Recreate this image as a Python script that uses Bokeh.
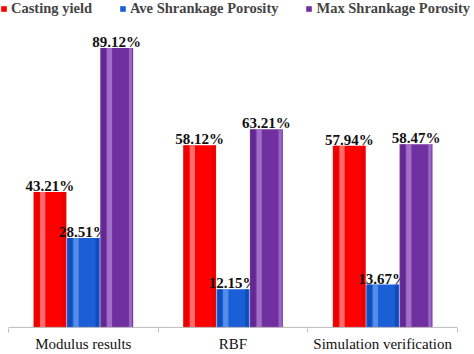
from bokeh.plotting import figure
from bokeh.models import ColumnDataSource, FixedTicker, Legend, LegendItem, Range1d
from bokeh.core.properties import value
from bokeh.embed import file_html
from bokeh.resources import INLINE

categories = ["Modulus results", "RBF", "Simulation verification"]
series_names = ["Casting yield", "Ave Shrankage Porosity", "Max Shrankage Porosity"]
casting_yield = [43.21, 58.12, 57.94]
ave_porosity = [28.51, 12.15, 13.67]
max_porosity = [89.12, 63.21, 58.47]

colors = ["#FF0000", "#1A5FD6", "#7030A0"]
light = ["#FF9A9A", "#6FA0F0", "#B68AD8"]
dark = ["#D80000", "#0A3FA8", "#5A2386"]
offsets = [-0.223, 0.0, 0.223]
bw = 0.22

n = len(categories)
px_per_cat = 449.0 / n
p = figure(width=474, height=354, output_backend="svg", toolbar_location=None,
           x_range=Range1d(-8 / px_per_cat, n + 17 / px_per_cat), y_range=Range1d(-0.35, 104.3),
           min_border_left=0, min_border_right=0, min_border_top=0, min_border_bottom=0)
p.outline_line_color = None
p.xgrid.visible = False
p.ygrid.visible = False
p.yaxis.visible = False

serif = value("Liberation Serif")
items = []
for i, vals in enumerate([casting_yield, ave_porosity, max_porosity]):
    xs = [k + 0.5 + offsets[i] for k in range(n)]
    src = ColumnDataSource(dict(x=xs, top=vals, lab=[f"{v:.2f}%" for v in vals]))
    r = p.vbar(x="x", top="top", width=bw, source=src, fill_color=colors[i], line_color=None)
    # shading stripes to mimic the gradient look
    p.vbar(x=[x - bw * 0.40 for x in xs], top=vals, width=bw * 0.12, fill_color=dark[i],
           line_color=None, fill_alpha=0.6)
    p.vbar(x=[x - bw * 0.22 for x in xs], top=vals, width=bw * 0.16, fill_color=light[i],
           line_color=None, fill_alpha=0.7)
    p.vbar(x=[x + bw * 0.42 for x in xs], top=vals, width=bw * 0.10, fill_color=light[i] if i == 2 else dark[i],
           line_color=None, fill_alpha=0.6)
    p.text(x="x", y="top", text="lab", source=src, text_align="center", text_baseline="alphabetic",
           y_offset=-6, text_font=serif, text_font_style="bold", text_font_size="15px", text_color="#111111")
    items.append(LegendItem(label=series_names[i], renderers=[r]))

# baseline across the category span
p.segment(x0=[0], x1=[n], y0=[0], y1=[0], line_color="#BBBBBB", line_width=1)

legend = Legend(items=items, orientation="horizontal", location=(0, 311),
                glyph_width=7, glyph_height=7, label_standoff=4, spacing=27,
                padding=0, margin=0, border_line_color=None, background_fill_alpha=0,
                label_text_font="Liberation Serif", label_text_font_style="bold", label_text_font_size="14.5px",
                label_height=14)
p.add_layout(legend, "center")

p.xaxis.ticker = FixedTicker(ticks=[c + 0.5 for c in range(n)], minor_ticks=list(range(n + 1)))
p.xaxis.major_label_overrides = {c + 0.5: categories[c] for c in range(n)}
p.xaxis.major_tick_line_color = None
p.xaxis.major_tick_out = 0
p.xaxis.major_tick_in = 0
p.xaxis.minor_tick_out = 4
p.xaxis.minor_tick_in = 0
p.xaxis.minor_tick_line_color = "#BBBBBB"
p.xaxis.axis_line_color = None
p.xaxis.major_label_standoff = 3
p.xaxis.major_label_text_font = "Liberation Serif"
p.xaxis.major_label_text_font_size = "15px"
p.xaxis.major_label_text_color = "#111111"

open("out.html", "w").write(file_html(p, INLINE))
